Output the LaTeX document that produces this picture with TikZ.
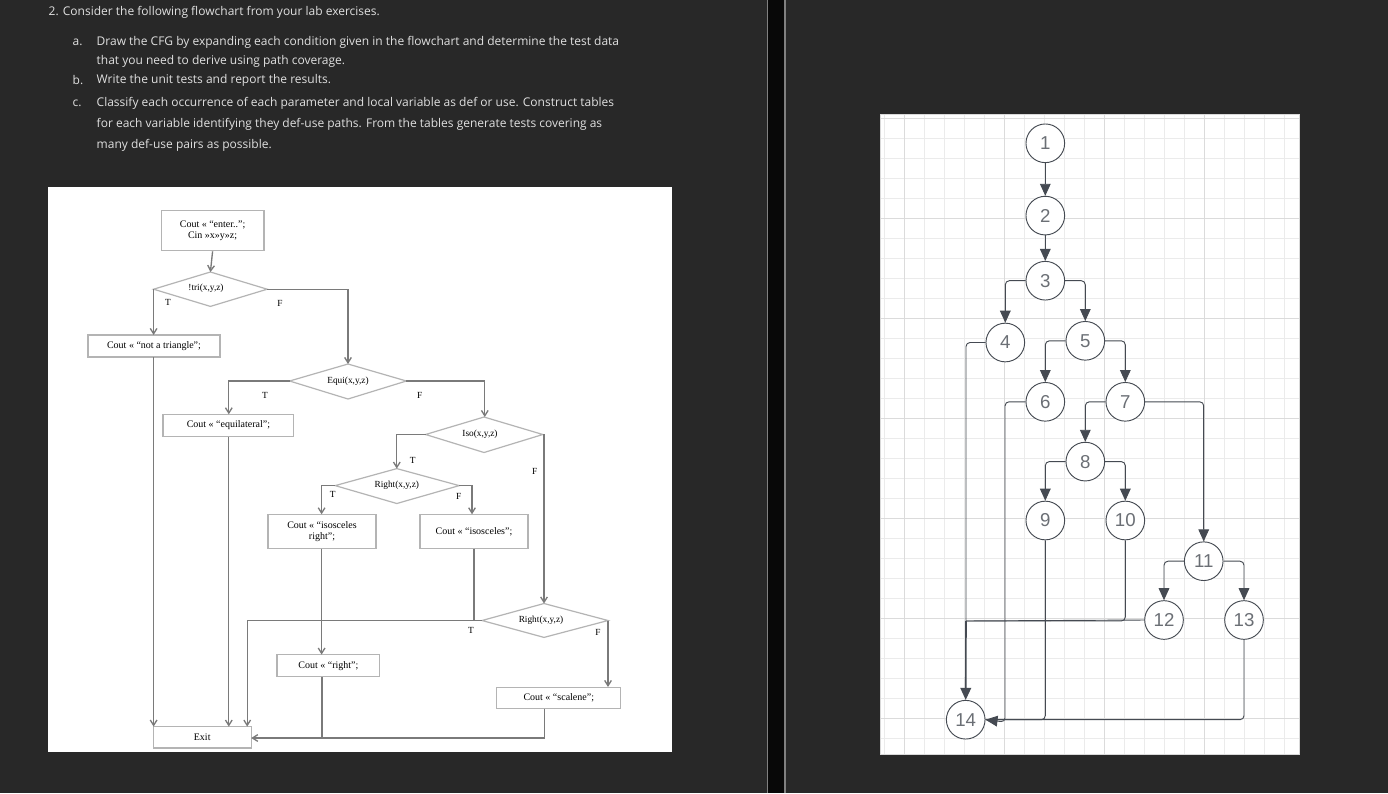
\documentclass[tikz,border=0pt]{standalone}
\usepackage{fontspec}
\setmainfont{Liberation Serif}
\newfontfamily\uifont{Open Sans}
\newfontfamily\cfgfont{Liberation Sans}
\usetikzlibrary{arrows.meta}
\definecolor{bgc}{HTML}{282828}
\definecolor{fcl}{HTML}{7A7A7A}
\definecolor{fbox}{HTML}{B4B4B4}
\definecolor{cfgl}{HTML}{454A52}
\definecolor{cfgt}{HTML}{6B6F75}
\tikzset{
 fbx/.style={draw=fbox,line width=0.9pt,inner sep=0pt,align=center,font=\fontsize{7.5}{8}\selectfont},
 flbl/.style={font=\fontsize{7}{8}\selectfont},
 fdia/.style={draw=fbox,line width=0.9pt,fill=white},
 fl/.style={draw=fcl,line width=1pt},
 fa/.style={fl,-{Straight Barb[length=4pt,width=5pt]}},
 cn/.style={circle,draw=cfgl,line width=0.7pt,fill=white,minimum size=29pt,inner sep=0pt,text=cfgt,font=\cfgfont\fontsize{14}{14}\selectfont},
 ce/.style={draw=cfgl,line width=0.7pt,rounded corners=3pt},
 ca/.style={ce,-{Triangle[length=9pt,width=8pt]}},
 ut/.style={anchor=west,text=white!88!black,font=\uifont\fontsize{9}{11}\selectfont},
}
\begin{document}
\begin{tikzpicture}[x=0.75pt,y=-0.75pt]
\fill[bgc] (0,0) rectangle (1388,793);
\useasboundingbox (0,0) rectangle (1388,793);
\fill[black!97] (767,0) rectangle (785,793);
\draw[gray,line width=0.8pt] (767.5,0)--(767.5,793) (785,0)--(785,793);
% text
\node[ut] (t0) at (44,12) {2. Consider the following flowchart from your lab exercises.};
\node[ut] (ta) at (68,42) {a.};
\node[ut] (ta1) at (92,42) {Draw the CFG by expanding each condition given in the flowchart and determine the test data};
\node[ut] (ta2) at (92,61) {that you need to derive using path coverage.};
\node[ut] (tb) at (68,80) {b.};
\node[ut] (tb1) at (92,80) {Write the unit tests and report the results.};
\node[ut] (tc) at (68,103) {c.};
\node[ut] (tc1) at (92,103) {Classify each occurrence of each parameter and local variable as def or use. Construct tables};
\node[ut] (tc2) at (92,124) {for each variable identifying they def-use paths. From the tables generate tests covering as};
\node[ut] (tc3) at (92,145) {many def-use pairs as possible.};
% flowchart panel
\fill[white] (48,187) rectangle (672,752);
\node[fbx,minimum width=77pt,minimum height=30pt] (b1) at (212.6,230.7) {Cout << “enter..”;\\Cin >>x>>y>>z;};
\draw[fdia] (153.6,289.2)--(210.4,272)--(267.2,289.2)--(210.4,306.4)--cycle;
\node[flbl] (d1) at (206,288) {!tri(x,y,z)};
\node[fbx,minimum width=99pt,minimum height=16.5pt] (b2) at (154,346) {Cout << “not a triangle”;};
\draw[fdia] (289.6,381)--(348,364)--(406.4,381)--(348,399)--cycle;
\node[flbl] (d2) at (348,381) {Equi(x,y,z)};
\node[fbx,minimum width=98pt,minimum height=16.5pt] (b3) at (228.4,425.5) {Cout << “equilateral”;};
\draw[fdia] (425.6,434.5)--(484,417)--(542.8,434.5)--(484,452.5)--cycle;
\node[flbl] (d3) at (480,434.5) {Iso(x,y,z)};
\draw[fdia] (335.2,485.6)--(396.8,468.6)--(459.2,485.6)--(396.8,503.5)--cycle;
\node[flbl] (d4) at (396.8,485.6) {Right(x,y,z)};
\node[fbx,minimum width=81pt,minimum height=25.5pt] (b4) at (322,531.4) {Cout << “isosceles\\right”;};
\node[fbx,minimum width=81pt,minimum height=25.5pt] (b5) at (474,531.4) {Cout << “isosceles”;};
\draw[fdia] (482,620.5)--(544,603.5)--(608,620.5)--(544,637.4)--cycle;
\node[flbl] (d5) at (541,620.5) {Right(x,y,z)};
\node[fbx,minimum width=77pt,minimum height=16.5pt] (b6) at (328.4,665.8) {Cout << “right”;};
\node[fbx,minimum width=93pt,minimum height=16pt] (b7) at (558.8,697.8) {Cout << “scalene”;};
\node[fbx,minimum width=73.5pt,minimum height=16pt] (ex) at (202.2,737.3) {Exit};
\node[flbl] (l1) at (168,302) {T};
\node[flbl] (l2) at (280,303) {F};
\node[flbl] (l3) at (265,395) {T};
\node[flbl] (l4) at (419.6,395.6) {F};
\node[flbl] (l5) at (412.8,460.4) {T};
\node[flbl] (l6) at (534.8,471) {F};
\node[flbl] (l7) at (332.8,494.5) {T};
\node[flbl] (l8) at (458.8,496.4) {F};
\node[flbl] (l9) at (471,630) {T};
\node[flbl] (l10) at (598,632) {F};
% flowchart connectors
\draw[fa] (b1.south)--(210.4,272);
\draw[fa] (153.6,289.2)--(153.6,335);
\draw[fa] (267.2,289.2)-|(348,364);
\draw[fa] (289.6,381)-|(228.8,414.3);
\draw[fa] (406.4,381)-|(484.8,417);
\draw[fa] (425.6,434.5)-|(396.8,468.6);
\draw[fa] (542.8,434.5)--(544,434.5)--(544,603.5);
\draw[fa] (335.2,485.6)-|(321.6,514.3);
\draw[fa] (459.2,485.6)-|(472,514.3);
\draw[fa] (321.6,548.5)--(321.6,654.6);
\draw[fl] (474,548.5)--(474,620.5);
\draw[fa] (482,620.5)-|(247.2,726.6);
\draw[fa] (608,620.5)--(608,687);
\draw[fa] (153.6,357)--(153.6,726.6);
\draw[fa] (228.8,436.6)--(228.8,726.6);
\draw[fl] (322,677)--(322,738);
\draw[fa] (544.8,708.6)--(544.8,738)--(251.2,738);
% CFG panel
\begin{scope}
\clip (880,114) rectangle (1299,754);
\fill[white] (880,114) rectangle (1299,754);
\foreach \i in {0,...,21} {\draw[black!8,line width=0.6pt] ({884.3+20*\i},114)--({884.3+20*\i},754);}
\foreach \i in {0,...,32} {\draw[black!8,line width=0.6pt] (880,{118+20*\i})--(1299,{118+20*\i});}
\foreach \i in {0,...,4} {\draw[black!14,line width=0.6pt] ({904.3+100*\i},114)--({904.3+100*\i},754);}
\foreach \i in {0,...,6} {\draw[black!14,line width=0.6pt] (880,{118+100*\i})--(1299,{118+100*\i});}
\end{scope}
\draw[black!15] (880,114) rectangle (1299,754);
\coordinate (j14) at (966,621);
\node[cn] (n1) at (1045.3,143.3) {1};
\node[cn] (n2) at (1045.3,215.6) {2};
\node[cn] (n3) at (1045.3,280.7) {3};
\node[cn] (n4) at (1005.3,342.5) {4};
\node[cn] (n5) at (1085.3,340.8) {5};
\node[cn] (n6) at (1045.3,401.8) {6};
\node[cn] (n7) at (1125.3,401.8) {7};
\node[cn] (n8) at (1085.3,461.6) {8};
\node[cn] (n9) at (1045.3,520.5) {9};
\node[cn] (n10) at (1125.3,520.5) {10};
\node[cn] (n11) at (1203.7,561.2) {11};
\node[cn] (n12) at (1164,620) {12};
\node[cn] (n13) at (1244,620) {13};
\node[cn] (n14) at (965.7,719.7) {14};
\draw[ca] (n1)--(n2);
\draw[ca] (n2)--(n3);
\draw[ca] (n3.west)-|(n4.north);
\draw[ca] (n3.east)-|(n5.north);
\draw[ce] (n4.west)-|(j14);
\draw[ca] (n5.west)-|(n6.north);
\draw[ca] (n5.east)-|(n7.north);
\draw[ca] (n7.west)-|(n8.north);
\draw[ca] (n7.east)-|(n11.north);
\draw[ca] (n8.west)-|(n9.north);
\draw[ca] (n8.east)-|(n10.north);
\draw[ca] (n11.west)-|(n12.north);
\draw[ca] (n11.east)-|(n13.north);
\draw[ce] (n10.south)|-(j14);
\draw[ce] (n12.west)--(j14);
\draw[ca,line width=1.2pt] (j14)--(n14.north);
\draw[ca] (n6.west)-|(1005,722)--(n14.east);
\draw[ce] (n9.south)|-(n14.east);
\draw[ce] (n13.south)|-(n14.east);
\end{tikzpicture}
\end{document}
